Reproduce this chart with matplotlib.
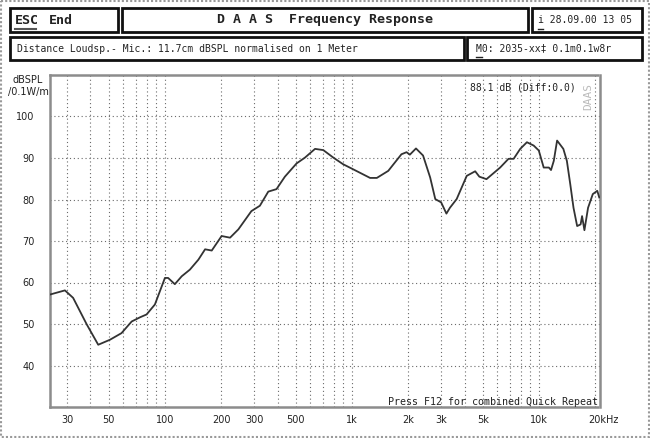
import matplotlib.pyplot as plt
import matplotlib.transforms as mtransforms
from matplotlib.patches import Rectangle
from matplotlib.lines import Line2D

freq = [24.3, 29.2, 32.3, 38.2, 44, 50.8, 58.6, 66.4, 73.5, 79.8, 88.4,
        100, 104, 113, 123, 136, 151, 164, 178, 201, 223, 247, 290, 322,
        357, 395, 438, 506, 561, 635, 703, 795, 897, 1013, 1250, 1359,
        1564, 1839, 1959, 2040, 2200, 2400, 2620, 2790, 3000, 3200, 3340,
        3630, 4110, 4560, 4800, 5240, 6200, 6870, 7320, 7940, 8620, 9370,
        9980, 10600, 11300, 11600, 12000, 12500, 13500, 14100, 14700,
        15300, 16000, 16700, 17000, 17500, 18300, 19400, 20500, 21000]
spl = [57.1, 58.1, 56.3, 49.9, 45.0, 46.2, 47.8, 50.6, 51.6, 52.3, 54.7,
       61.1, 61.1, 59.6, 61.5, 63.1, 65.5, 68.0, 67.7, 71.2, 70.8, 72.8,
       77.2, 78.5, 81.9, 82.5, 85.5, 88.7, 90.1, 92.2, 91.9, 90.1, 88.5,
       87.3, 85.2, 85.2, 86.9, 90.9, 91.4, 90.8, 92.3, 90.6, 85.3, 80.1,
       79.3, 76.6, 78.0, 80.1, 85.7, 86.8, 85.5, 84.9, 87.7, 89.8, 89.8,
       92.2, 93.8, 93.0, 91.8, 87.7, 87.7, 87.1, 89.3, 94.2, 92.2, 89.3,
       83.7, 78.0, 73.6, 74.0, 76.0, 72.6, 78.0, 81.3, 82.1, 80.5]

xtick_pos = [30, 50, 100, 200, 300, 500, 1000, 2000, 3000, 5000, 10000, 20000]
xtick_lab = ['30', '50', '100', '200', '300', '500', '1k', '2k', '3k', '5k',
             '10k', '20kHz']
xgrid = [m * d for d in (10, 100, 1000) for m in range(1, 10)
         if 24 < m * d] + [10000, 20000]
ytick_pos = [40, 50, 60, 70, 80, 90, 100]

W, H = 650, 438
mono = 'DejaVu Sans Mono'
ink = '#222222'

fig = plt.figure(figsize=(W / 100, H / 100), dpi=100)
fig.patch.set_facecolor('white')

ax = fig.add_axes([50 / W, (H - 407) / H, 550 / W, 332 / H])
ax.set_xscale('log')
ax.set_xlim(24.3, 21200)
ax.set_ylim(30, 110)
ax.plot(freq, spl, color='#333333', lw=1.3, zorder=3)

ax.set_xticks(xgrid, minor=True)
ax.set_xticks(xtick_pos)
ax.set_xticklabels(xtick_lab)
ax.set_yticks(ytick_pos)
ax.tick_params(which='both', length=0, labelsize=7, colors=ink)
ax.tick_params(axis='x', pad=6)
ax.tick_params(axis='y', pad=11)
ax.grid(which='both', axis='x', color='#6a6a6a', lw=0.8, ls=(0, (1, 2.5)))
ax.grid(which='major', axis='y', color='#6a6a6a', lw=0.8, ls=(0, (1, 2.5)))
for side, sp in ax.spines.items():
    sp.set_color('#8c8c8c')
    sp.set_linewidth(1.8)
    if side in ('top', 'right', 'bottom'):
        sp.set_linestyle((0, (1, 1)))

# the "20kHz" label sits with its "20" on the gridline
last = ax.get_xticklabels()[-1]
last.set_transform(last.get_transform() +
                   mtransforms.ScaledTranslation(8 / 100, 0, fig.dpi_scale_trans))

# screen furniture in pixel coordinates
ov = fig.add_axes([0, 0, 1, 1], zorder=5)
ov.set_xlim(0, W)
ov.set_ylim(H, 0)
ov.axis('off')

ov.add_patch(Rectangle((1, 1), W - 2, H - 2, fill=False, ec='#999999',
                       lw=1.5, ls=(0, (1, 1))))
boxes = [(10, 8, 108, 24), (122, 8, 406, 24), (532, 8, 110, 24),
         (10, 37, 454, 23), (467, 37, 175, 23)]
for x, y, w, h in boxes:
    ov.add_patch(Rectangle((x, y), w, h, fill=False, ec='#111111', lw=2))

ov.text(15, 20, 'ESC', fontfamily=mono, fontweight='bold', fontsize=9.5,
        color=ink, va='center')
ov.add_line(Line2D([15, 36], [29, 29], color='#555555', lw=1.5))
ov.text(49, 20, 'End', fontfamily=mono, fontweight='bold', fontsize=9.5,
        color=ink, va='center')
ov.text(325, 20, 'D A A S  Frequency Response', fontfamily=mono,
        fontweight='bold', fontsize=9.5, color=ink, ha='center', va='center')
ov.text(538, 20, 'i 28.09.00 13 05', fontfamily=mono, fontsize=7, color=ink,
        va='center')
ov.add_line(Line2D([538, 543], [29, 29], color=ink, lw=1))
ov.text(17, 48.5, 'Distance Loudsp.- Mic.: 11.7cm dBSPL normalised on 1 Meter',
        fontfamily=mono, fontsize=7, color=ink, va='center')
ov.text(476, 48.5, 'M0: 2035-xx\u2021 0.1m0.1w8r', fontfamily=mono,
        fontsize=7, color=ink, va='center')
ov.add_line(Line2D([476, 482], [57, 57], color=ink, lw=1))

ov.text(28, 80, 'dBSPL', fontsize=7, color=ink, ha='center', va='center')
ov.text(28, 92, '/0.1W/m', fontsize=7, color=ink, ha='center', va='center')
ov.text(576, 87, '88.1 dB (Diff:0.0)', fontfamily=mono, fontsize=7,
        color=ink, ha='right', va='center')
ov.text(588, 97, 'DAAS', fontfamily=mono, fontsize=8, color='#bbbbbb',
        rotation=90, ha='center', va='center')
ov.text(598, 402, 'Press F12 for combined Quick Repeat', fontfamily=mono,
        fontsize=7.2, color=ink, ha='right', va='center')

fig.savefig('out.png', dpi=100, facecolor='white')
